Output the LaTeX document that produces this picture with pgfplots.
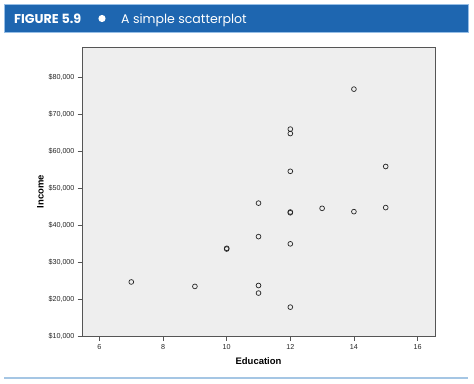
\documentclass[border=0pt]{standalone}
\usepackage{pgfplots}
\pgfplotsset{compat=1.18}
\usepackage{fontspec}
\setmainfont{Liberation Sans}
\newfontfamily\titlefont{Poppins}
\definecolor{barblue}{RGB}{30,102,176}
\definecolor{baredge}{RGB}{150,190,230}
\definecolor{linebl}{RGB}{165,198,228}
\definecolor{plotbg}{RGB}{238,238,238}
\definecolor{framegray}{RGB}{85,85,85}
\begin{document}
\begin{tikzpicture}
\begin{scope}[x=1bp,y=1bp]
\useasboundingbox (0,0) rectangle (474,383);
\fill[white] (0,0) rectangle (474,383);
% title bar
\fill[barblue,draw=baredge,line width=1bp] (4,351) rectangle (468,378);
\node[anchor=base west,text=white,inner sep=0pt,font=\titlefont\fontsize{12.8}{14}\selectfont\bfseries] at (14,359.5) {FIGURE 5.9};
\fill[white] (102,364.5) circle (3.6);
\node[anchor=base west,text=white,inner sep=0pt,font=\titlefont\fontsize{12.6}{14}\selectfont] at (121,359.5) {A simple scatterplot};
% bottom rule
\draw[linebl,line width=2bp] (4,5.3) -- (468,5.3);
\end{scope}
\begin{axis}[
  at={(82bp,47bp)}, anchor=south west,
  scale only axis, width=353bp, height=288.7bp,
  xmin=5.45, xmax=16.55, ymin=10000, ymax=88000,
  axis background/.style={fill=plotbg},
  axis line style={framegray,line width=0.9bp},
  xtick={6,8,10,12,14,16},
  ytick={10000,20000,30000,40000,50000,60000,70000,80000},
  yticklabels={{\$10,000},{\$20,000},{\$30,000},{\$40,000},{\$50,000},{\$60,000},{\$70,000},{\$80,000}},
  scaled y ticks=false,
  tick pos=left, tick align=outside,
  major tick length=4.5bp,
  tick style={framegray,line width=0.8bp},
  tick label style={font=\fontsize{7.2}{8}\selectfont, text=black!85},
  xticklabel style={yshift=-0.5bp},
  yticklabel style={xshift=0.5bp},
  xlabel={\bfseries Education}, ylabel={\bfseries Income},
  label style={font=\fontsize{9.5}{11}\selectfont},
  xlabel style={yshift=-1bp},
  ylabel style={yshift=-2bp},
  /pgf/number format/assume math mode=true,
]
\addplot[only marks, mark=o, mark size=2.4bp, mark options={draw=black!85,line width=0.7bp}] coordinates {
(7,24600) (9,23400) (10,33700) (10,33500)
(11,45900) (11,36850) (11,23650) (11,21600)
(12,65900) (12,64700) (12,54500) (12,43500) (12,43300) (12,34900) (12,17800)
(13,44500) (14,76700) (14,43600) (15,55800) (15,44700)
};
\end{axis}
\end{tikzpicture}
\end{document}
